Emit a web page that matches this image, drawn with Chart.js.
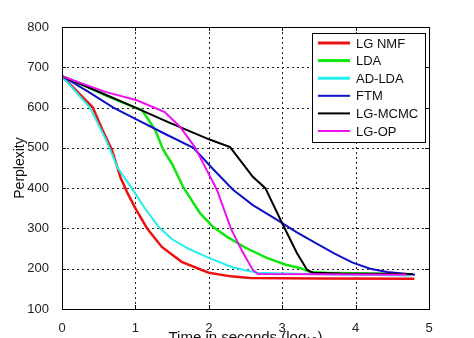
<!DOCTYPE html>
<html>
<head>
<meta charset="utf-8">
<title>Perplexity vs time</title>
<script src="https://cdn.jsdelivr.net/npm/chart.js@4/dist/chart.umd.min.js"></script>
<style>
  html, body { margin: 0; padding: 0; background: #fff; }
  canvas { display: block; }
</style>
</head>
<body>
<canvas id="perpChart" width="474" height="338"></canvas>
<script>
// axis ticks
const xTicks = [0, 1, 2, 3, 4, 5];
const yTicks = [100, 200, 300, 400, 500, 600, 700, 800];

// series names, in plotting order
const seriesNames = ['LG NMF', 'LDA', 'AD-LDA', 'FTM', 'LG-MCMC', 'LG-OP'];

// time (log10 seconds) / perplexity samples per method
const nmfX  = [0, 0.42, 0.55, 0.68, 0.8, 0.9, 1.0, 1.16, 1.36, 1.63, 2.0, 2.3, 2.56, 3.5, 4.8];
const nmfY  = [678, 600, 545, 495, 425, 385, 350, 300, 254, 217, 190, 181, 177, 176, 175];

const ldaX  = [0, 0.35, 0.6, 1.0, 1.09, 1.27, 1.38, 1.5, 1.65, 1.88, 2.05, 2.25, 2.5, 2.79, 3.05, 3.24, 3.38, 3.6, 4.75];
const ldaY  = [678, 651, 630, 600, 594, 544, 495, 460, 403, 338, 305, 279, 252, 227, 210, 202, 192, 190, 186];

const adX   = [0, 0.38, 0.6, 0.76, 0.95, 1.13, 1.31, 1.5, 1.72, 2.0, 2.33, 2.66, 2.9, 3.5, 4.75];
const adY   = [678, 600, 520, 450, 400, 350, 305, 273, 250, 227, 203, 190, 189, 186, 183];

const ftmX  = [0, 0.35, 0.7, 1.0, 1.4, 1.79, 2.06, 2.33, 2.6, 2.93, 3.2, 3.47, 3.72, 3.96, 4.2, 4.43, 4.81];
const ftmY  = [678, 640, 600, 572, 535, 500, 447, 396, 358, 321, 290, 262, 237, 215, 200, 192, 185];

const mcmcX = [0, 0.35, 1.0, 1.47, 2.02, 2.29, 2.6, 2.77, 3.01, 3.2, 3.34, 3.42, 3.8, 4.78];
const mcmcY = [678, 651, 600, 562, 520, 502, 428, 400, 309, 239, 197, 190, 188, 187];

const opX   = [0, 0.59, 1.02, 1.4, 1.61, 1.81, 1.88, 2.11, 2.3, 2.45, 2.6, 2.67, 3.5, 4.7];
const opY   = [678, 639, 618, 589, 552, 502, 477, 396, 300, 245, 197, 187, 186, 185];

const seriesX = [nmfX, ldaX, adX, ftmX, mcmcX, opX];
const seriesY = [nmfY, ldaY, adY, ftmY, mcmcY, opY];
const colors  = ['#ee1111', '#11e611', '#22eeee', '#1010c8', '#000000', '#ee11ee'];
const widths  = [2.5, 2.5, 2, 2, 2, 2];

const FONT = '"Liberation Sans", Arial, sans-serif';

const datasets = seriesNames.map((name, i) => ({
  label: name,
  data: seriesX[i].map((x, k) => ({ x, y: seriesY[i][k] })),
  borderColor: colors[i],
  backgroundColor: colors[i],
  borderWidth: widths[i],
  pointRadius: 0,
  tension: 0,
  fill: false,
  order: seriesNames.length - i   // later series drawn on top
}));

// dotted grid behind the lines
const dottedGrid = {
  id: 'dottedGrid',
  beforeDatasetsDraw(chart) {
    const { ctx, chartArea: a, scales } = chart;
    ctx.save();
    ctx.strokeStyle = '#222';
    ctx.lineWidth = 1;
    ctx.setLineDash([2, 3]);
    ctx.beginPath();
    xTicks.slice(1, -1).forEach(v => {
      const px = Math.round(scales.x.getPixelForValue(v)) + 0.5;
      ctx.moveTo(px, a.bottom); ctx.lineTo(px, a.top);
    });
    yTicks.slice(1, -1).forEach(v => {
      const py = Math.round(scales.y.getPixelForValue(v)) + 0.5;
      ctx.moveTo(a.left, py); ctx.lineTo(a.right, py);
    });
    ctx.stroke();
    ctx.restore();
  }
};

// solid box around the axes plus small inward tick marks
const frame = {
  id: 'frame',
  afterDatasetsDraw(chart) {
    const { ctx, chartArea: a, scales } = chart;
    ctx.save();
    ctx.strokeStyle = '#000';
    ctx.lineWidth = 1;
    ctx.beginPath();
    xTicks.forEach(v => {
      const px = Math.round(scales.x.getPixelForValue(v)) + 0.5;
      ctx.moveTo(px, a.bottom); ctx.lineTo(px, a.bottom - 4);
      ctx.moveTo(px, a.top);    ctx.lineTo(px, a.top + 4);
    });
    yTicks.forEach(v => {
      const py = Math.round(scales.y.getPixelForValue(v)) + 0.5;
      ctx.moveTo(a.left, py);  ctx.lineTo(a.left + 4, py);
      ctx.moveTo(a.right, py); ctx.lineTo(a.right - 4, py);
    });
    ctx.stroke();
    ctx.strokeRect(Math.round(a.left) + 0.5, Math.round(a.top) + 0.5,
                   Math.round(a.right - a.left), Math.round(a.bottom - a.top));
    ctx.restore();
  }
};

// boxed legend in the upper right corner of the plot
const boxLegend = {
  id: 'boxLegend',
  afterDraw(chart) {
    const { ctx, chartArea: a } = chart;
    const w = 113, rowH = 17.6;
    const h = rowH * chart.data.datasets.length + 3;
    const x0 = a.right - w - 4, y0 = a.top + 6;
    ctx.save();
    ctx.fillStyle = '#fff';
    ctx.fillRect(x0, y0, w, h);
    ctx.strokeStyle = '#000';
    ctx.lineWidth = 1;
    ctx.strokeRect(Math.round(x0) + 0.5, Math.round(y0) + 0.5, w, Math.round(h));
    ctx.font = '13px ' + FONT;
    ctx.textBaseline = 'middle';
    chart.data.datasets.forEach((ds, i) => {
      const y = y0 + 10 + i * rowH;
      ctx.strokeStyle = ds.borderColor;
      ctx.lineWidth = i < 3 ? 3 : 2;
      ctx.beginPath();
      ctx.moveTo(x0 + 6, y);
      ctx.lineTo(x0 + 38, y);
      ctx.stroke();
      ctx.fillStyle = '#111';
      ctx.fillText(ds.label, x0 + 44, y + 1);
    });
    ctx.restore();
  }
};

new Chart(document.getElementById('perpChart'), {
  type: 'line',
  data: { datasets },
  plugins: [dottedGrid, frame, boxLegend],
  options: {
    responsive: false,
    animation: false,
    events: [],
    layout: { padding: { left: 0, top: 27, right: 45, bottom: 0 } },
    plugins: { legend: { display: false }, tooltip: { enabled: false } },
    scales: {
      x: {
        type: 'linear',
        min: 0, max: 5,
        afterBuildTicks: s => { s.ticks = xTicks.map(v => ({ value: v })); },
        afterFit: s => { s.height = 29; },
        grid: { display: false },
        border: { display: false },
        ticks: { color: '#222', font: { family: FONT, size: 13 }, padding: 4, maxRotation: 0 },
        title: {
          display: true,
          text: 'Time in seconds (log\u2081\u2080)',
          color: '#111',
          font: { family: FONT, size: 15 },
          padding: { top: 0, bottom: -9 }
        }
      },
      y: {
        type: 'linear',
        min: 100, max: 800,
        afterBuildTicks: s => { s.ticks = yTicks.map(v => ({ value: v })); },
        afterFit: s => { s.width = 62; },
        grid: { display: false },
        border: { display: false },
        ticks: { color: '#222', font: { family: FONT, size: 13 }, padding: 5 },
        title: {
          display: true,
          text: 'Perplexity',
          color: '#111',
          font: { family: FONT, size: 14 },
          padding: { top: 12, bottom: 0 }
        }
      }
    }
  }
});
</script>
</body>
</html>
